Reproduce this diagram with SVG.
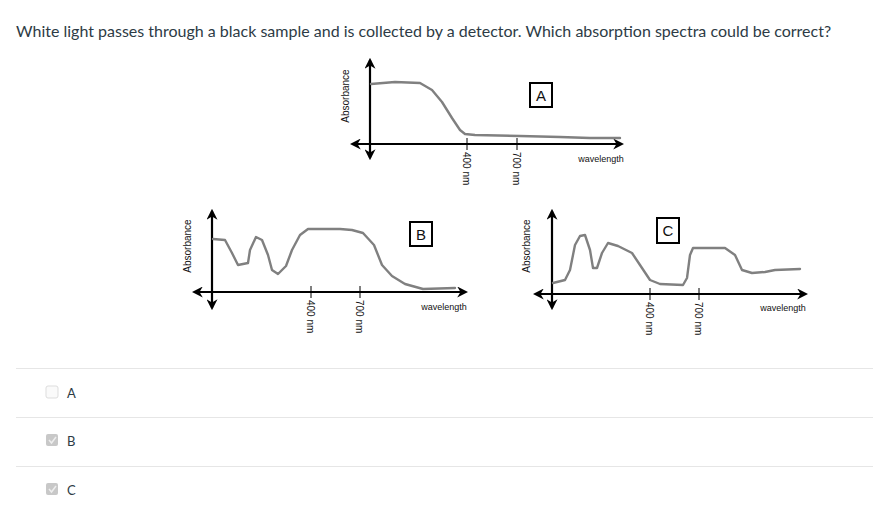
<svg xmlns="http://www.w3.org/2000/svg" width="873" height="508" viewBox="0 0 873 508">
<style>
.t{font-family:Lato,"Liberation Sans",sans-serif;fill:#2d3b45}
.s{font-family:"Liberation Sans",sans-serif;fill:#111}
.ax{stroke:#000;stroke-width:2.2;fill:none}
.cv{stroke:#808080;stroke-width:2.4;fill:none;stroke-linejoin:round;stroke-linecap:round}
.bx{fill:#fff;stroke:#000;stroke-width:2}
.tk{stroke:#000;stroke-width:1}
.sep{stroke:#e6e6e6;stroke-width:1}
</style>
<defs>
<marker id="ar" viewBox="0 0 10 10" refX="8" refY="5" markerWidth="5" markerHeight="5" orient="auto-start-reverse"><path d="M0,0 L10,5 L0,10 L3,5 z" fill="#000"/></marker>
</defs>
<rect width="873" height="508" fill="#fff"/>
<text class="t" x="16" y="37" font-size="16">White light passes through a black sample and is collected by a detector. Which absorption spectra could be correct?</text>
<g id="chartA">
<line class="ax" x1="370" y1="158" x2="370" y2="60" marker-end="url(#ar)" marker-start="url(#ar)"/>
<line class="ax" x1="352" y1="144" x2="622" y2="144" marker-end="url(#ar)" marker-start="url(#ar)"/>
<line class="tk" x1="467" y1="138" x2="467" y2="150"/><line class="tk" x1="517" y1="138" x2="517" y2="150"/>
<path class="cv" d="M371,84 L395,82 L420,83 L432,90 L442,102 L452,118 L460,130 L465,134 L475,135 L520,136 L560,137 L590,138 L620,138"/>
<rect class="bx" x="530" y="83" width="22" height="24"/><text class="s" x="541" y="101" font-size="15" text-anchor="middle">A</text>
<text class="s" font-size="10" transform="translate(349,96) rotate(-90)" text-anchor="middle">Absorbance</text>
<text class="s" x="601" y="162" text-anchor="middle" font-size="9">wavelength</text>
<text class="s" font-size="10" transform="translate(463,152) rotate(90)">400 nm</text>
<text class="s" font-size="10" transform="translate(513,152) rotate(90)">700 nm</text>
</g>
<g id="chartB">
<line class="ax" x1="212" y1="308" x2="212" y2="211" marker-end="url(#ar)" marker-start="url(#ar)"/>
<line class="ax" x1="194" y1="292" x2="466" y2="292" marker-end="url(#ar)" marker-start="url(#ar)"/>
<line class="tk" x1="311" y1="286" x2="311" y2="298"/><line class="tk" x1="360" y1="286" x2="360" y2="298"/>
<path class="cv" d="M213,239 L225,240 L232,253 L238,265 L248,263 L250,250 L256,237 L262,240 L268,255 L272,270 L278,274 L286,266 L292,250 L300,235 L308,229 L340,229 L352,230 L363,233 L374,245 L382,265 L392,276 L405,284 L423,289 L455,288"/>
<rect class="bx" x="410" y="222" width="22" height="24"/><text class="s" x="421" y="240" font-size="15" text-anchor="middle">B</text>
<text class="s" font-size="10" transform="translate(191,246) rotate(-90)" text-anchor="middle">Absorbance</text>
<text class="s" x="444" y="310" text-anchor="middle" font-size="9">wavelength</text>
<text class="s" font-size="10" transform="translate(307,300) rotate(90)">400 nm</text>
<text class="s" font-size="10" transform="translate(356,300) rotate(90)">700 nm</text>
</g>
<g id="chartC">
<line class="ax" x1="552" y1="308" x2="552" y2="211" marker-end="url(#ar)" marker-start="url(#ar)"/>
<line class="ax" x1="535" y1="294" x2="806" y2="294" marker-end="url(#ar)" marker-start="url(#ar)"/>
<line class="tk" x1="650" y1="288" x2="650" y2="300"/><line class="tk" x1="699" y1="288" x2="699" y2="300"/>
<path class="cv" d="M553,283 L565,280 L570,270 L575,245 L580,236 L585,235 L590,250 L593,268 L597,268 L602,253 L608,243 L618,246 L632,253 L640,265 L650,280 L660,284 L683,285 L687,278 L690,255 L693,248 L725,248 L735,255 L742,270 L752,273 L765,272 L775,270 L800,269"/>
<rect class="bx" x="657" y="218" width="22" height="25"/><text class="s" x="668" y="236" font-size="15" text-anchor="middle">C</text>
<text class="s" font-size="10" transform="translate(530,246) rotate(-90)" text-anchor="middle">Absorbance</text>
<text class="s" x="783" y="311" text-anchor="middle" font-size="9">wavelength</text>
<text class="s" font-size="10" transform="translate(646,302) rotate(90)">400 nm</text>
<text class="s" font-size="10" transform="translate(695,302) rotate(90)">700 nm</text>
</g>
<g id="answers">
<line class="sep" x1="16" y1="368.5" x2="873" y2="368.5"/>
<line class="sep" x1="16" y1="417.5" x2="873" y2="417.5"/>
<line class="sep" x1="16" y1="466.5" x2="873" y2="466.5"/>
<rect x="46" y="386" width="12" height="12" rx="2" fill="#fafafa" stroke="#ddd"/>
<text class="t" x="67" y="398" font-size="13">A</text>
<rect x="46" y="434" width="12" height="12" rx="2" fill="#c8c8c8"/>
<path d="M49,440 L51.5,443 L56,437" stroke="#eee" stroke-width="1.5" fill="none"/>
<text class="t" x="67" y="446" font-size="13">B</text>
<rect x="46" y="483" width="12" height="12" rx="2" fill="#c8c8c8"/>
<path d="M49,489 L51.5,492 L56,486" stroke="#eee" stroke-width="1.5" fill="none"/>
<text class="t" x="67" y="495" font-size="13">C</text>
</g>
</svg>
